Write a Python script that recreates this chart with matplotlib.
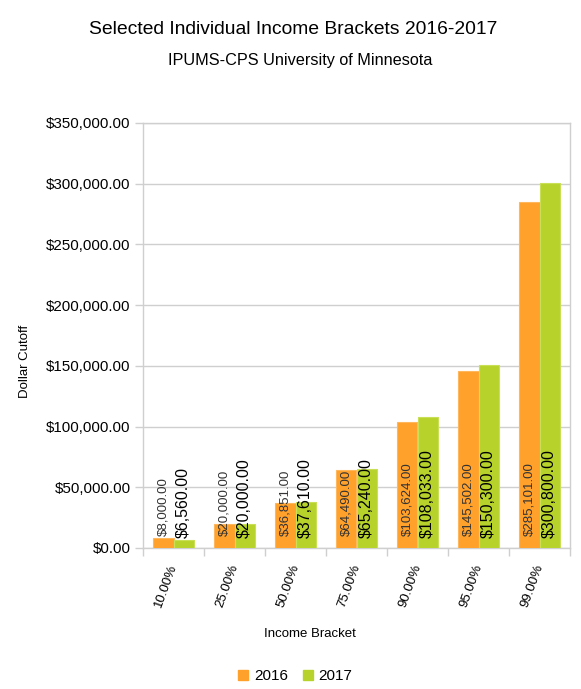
import matplotlib
matplotlib.use("Agg")
import matplotlib.pyplot as plt
import numpy as np
from matplotlib.lines import Line2D

plt.rcParams['font.family'] = ['Liberation Sans', 'DejaVu Sans']

# donnees
brackets = ["10.00%", "25.00%", "50.00%", "75.00%", "90.00%", "95.00%", "99.00%"]
cut_2016 = [8000, 20000, 36851, 64490, 103624, 145502, 285101]
cut_2017 = [6560, 20000, 37610, 65240, 108033, 150300, 300800]
y_ticks = [0, 50000, 100000, 150000, 200000, 250000, 300000, 350000]

orange = '#ffa12b'
green = '#b8d22c'
grid_c = '#cfcfcf'

fig = plt.figure(figsize=(5.81, 6.89), dpi=100)
ax = fig.add_axes([143 / 581, 1 - 548 / 689, 427 / 581, 425 / 689])

x = np.arange(len(brackets))
w = 0.328
ax.bar(x - w / 2, cut_2016, w, color=orange, edgecolor='#ffb75e', linewidth=0.8, zorder=3)
ax.bar(x + w / 2, cut_2017, w, color=green, edgecolor='#c9df55', linewidth=0.8, zorder=3)

# etiquettes dans les barres
for i in range(len(brackets)):
    ax.annotate("${:,.2f}".format(cut_2016[i]), (x[i] - w / 2, 0), xytext=(0, 9),
                textcoords='offset points', rotation=90, ha='center', va='bottom',
                fontsize=9.5, color='#333333', zorder=4)
    ax.annotate("${:,.2f}".format(cut_2017[i]), (x[i] + w / 2, 0), xytext=(0, 7),
                textcoords='offset points', rotation=90, ha='center', va='bottom',
                fontsize=11.5, color='black', zorder=4)

ax.set_xlim(-0.5, len(brackets) - 0.5)
ax.set_ylim(0, 350000)
ax.set_yticks(y_ticks)
ax.set_yticklabels(["${:,.2f}".format(v) for v in y_ticks], fontsize=10.9)
ax.yaxis.grid(True, color=grid_c, linewidth=1, zorder=0)

ax.set_xticks(x)
ax.set_xticklabels(brackets, rotation=70, ha='right', va='center',
                   rotation_mode='anchor', fontsize=9.5)
ax.set_xticks(np.arange(len(brackets) + 1) - 0.5, minor=True)
ax.tick_params(axis='x', which='major', length=0, pad=12)
ax.tick_params(axis='x', which='minor', length=6, color=grid_c, width=1)
ax.tick_params(axis='y', length=6, color=grid_c, width=1, pad=3)

for s in ax.spines.values():
    s.set_color(grid_c)
    s.set_linewidth(1)

fig.text(293 / 581, 1 - 30 / 689, "Selected Individual Income Brackets 2016-2017",
         ha='center', va='center', fontsize=13.9)
fig.text(300 / 581, 1 - 60 / 689, "IPUMS-CPS University of Minnesota",
         ha='center', va='center', fontsize=11.7)
fig.text(25 / 581, 1 - 361 / 689, "Dollar Cutoff", rotation=90,
         ha='center', va='center', fontsize=9.5)
fig.text(310 / 581, 1 - 634 / 689, "Income Bracket", ha='center', va='center', fontsize=9.5)

handles = [Line2D([], [], marker='s', linestyle='', markersize=7, color=orange),
           Line2D([], [], marker='s', linestyle='', markersize=7, color=green)]
fig.legend(handles, ["2016", "2017"], loc='center', bbox_to_anchor=(295 / 581, 1 - 676 / 689),
           ncol=2, frameon=False, fontsize=11, handlelength=0.8, handletextpad=0.3,
           columnspacing=0.9)

fig.savefig("out.png", dpi=100)
